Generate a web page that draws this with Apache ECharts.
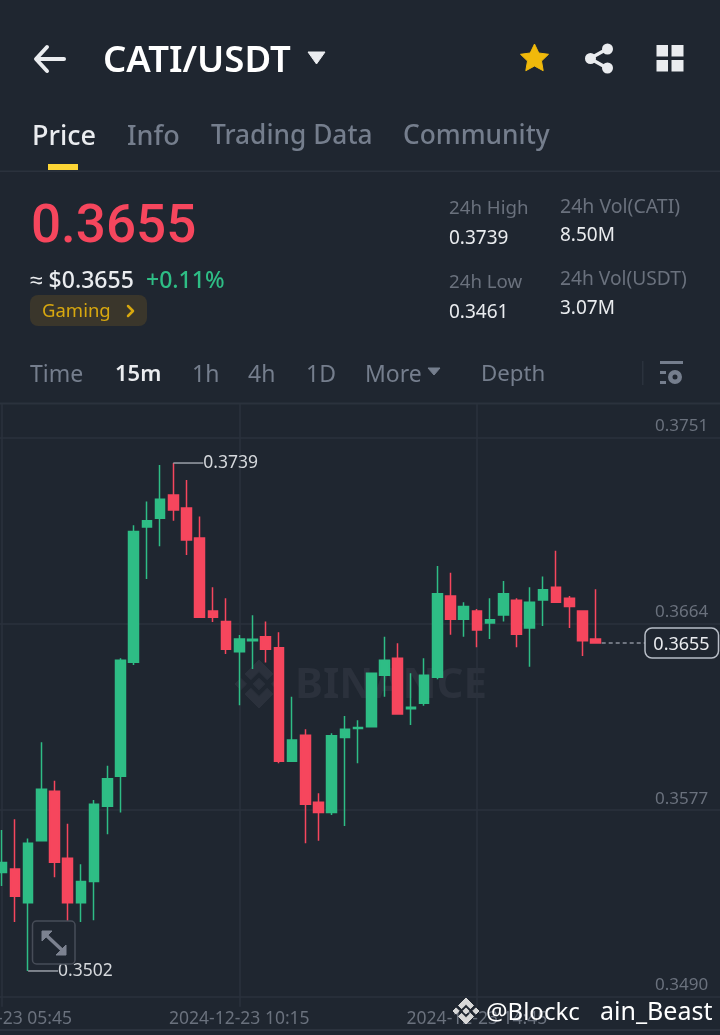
<!DOCTYPE html>
<html>
<head>
<meta charset="utf-8">
<title>CATI/USDT</title>
<script src="https://cdn.jsdelivr.net/npm/echarts@6/dist/echarts.min.js"></script>
<style>
  html, body { margin: 0; padding: 0; background: #1f2630; }
  #chart { width: 720px; height: 1035px; }
</style>
</head>
<body>
<div id="chart"></div>
<script>
// candle times, 15m bars, the tail slots are the empty space right of the last bar
const times = [
  '2024-12-23 05:45','2024-12-23 06:00','2024-12-23 06:15','2024-12-23 06:30','2024-12-23 06:45','2024-12-23 07:00',
  '2024-12-23 07:15','2024-12-23 07:30','2024-12-23 07:45','2024-12-23 08:00','2024-12-23 08:15','2024-12-23 08:30',
  '2024-12-23 08:45','2024-12-23 09:00','2024-12-23 09:15','2024-12-23 09:30','2024-12-23 09:45','2024-12-23 10:00',
  '2024-12-23 10:15','2024-12-23 10:30','2024-12-23 10:45','2024-12-23 11:00','2024-12-23 11:15','2024-12-23 11:30',
  '2024-12-23 11:45','2024-12-23 12:00','2024-12-23 12:15','2024-12-23 12:30','2024-12-23 12:45','2024-12-23 13:00',
  '2024-12-23 13:15','2024-12-23 13:30','2024-12-23 13:45','2024-12-23 14:00','2024-12-23 14:15','2024-12-23 14:30',
  '2024-12-23 14:45','2024-12-23 15:00','2024-12-23 15:15','2024-12-23 15:30','2024-12-23 15:45','2024-12-23 16:00',
  '2024-12-23 16:15','2024-12-23 16:30','2024-12-23 16:45','2024-12-23 17:00','2024-12-23 17:15','2024-12-23 17:30',
  '2024-12-23 17:45','2024-12-23 18:00','2024-12-23 18:15','2024-12-23 18:30','2024-12-23 18:45','2024-12-23 19:00',
  '2024-12-23 19:15'
];
// only these times get a label and a vertical line
const labelledTimes = ['2024-12-23 05:45', '2024-12-23 10:15', '2024-12-23 14:45'];

// OHLC
const opens = [
  .35479,.35496,.35338,.35628,.35859,.35546,.35338,.35437,.35789,.35929,.3646,.37092,
  .37132,.37241,.3718,.3704,.367,.3665,.3651,.36561,.3658,.36528,.35999,.3612,
  .35807,.35759,.36109,.36151,.3616,.364,.36479,.36243,.36269,.3639,.3677,.36661,
  .367,.36644,.36681,.3675,.3662,.36751,.3681,.36759,.367,.36569
];
const closes = [
  .35526,.35369,.35616,.35868,.35527,.35338,.35437,.35798,.35917,.3647,.3707,.37121,
  .37221,.37171,.37031,.3667,.3667,.36521,.36569,.36568,.36521,.35999,.36098,.35798,
  .35759,.36118,.36148,.36156,.36409,.3647,.36219,.3625,.364,.3678,.36661,.3672,
  .36611,.36659,.3678,.36591,.3674,.36799,.3674,.3672,.36561,.3655
];
const lows = [
  .35417,.35248,.3502,.35628,.35457,.3525,.35248,.35257,.35658,.35759,.36448,.36849,
  .37002,.37121,.36961,.3667,.36648,.36499,.3626,.36429,.36459,.35989,.35999,.35616,
  .35628,.35748,.35697,.35989,.3616,.363,.36219,.36168,.36258,.36381,.36589,.3658,
  .3653,.36569,.3665,.3653,.3644,.3663,.3674,.3662,.3649,.3655
];
const highs = [
  .35678,.35728,.35638,.36087,.35908,.35707,.35518,.35818,.35978,.36479,.371,.3721,
  .37381,.3739,.37311,.3714,.3681,.36759,.36588,.3668,.3665,.366,.363,.36148,
  .35849,.36129,.3621,.3619,.36409,.3658,.36549,.36409,.36479,.3691,.36878,.3674,
  .36709,.36759,.3684,.36759,.3681,.3686,.36981,.3677,.367,.36801
];

// price axis
const axisMin = 0.349;
const axisMax = 0.3751;
const axisStep = 0.0087;

// marked extremes and last price
const extremeIndex = [13, 2];
const extremePrice = [0.3739, 0.3502];
const lastIndex = 45;
const lastPrice = 0.3655;

// header texts
const tabLabels = ['Price', 'Info', 'Trading Data', 'Community'];
const periodLabels = ['Time', '15m', '1h', '4h', '1D', 'More', 'Depth'];
const statLabels = ['24h High', '24h Low', '24h Vol(CATI)', '24h Vol(USDT)'];
const statValues = ['0.3739', '0.3461', '8.50M', '3.07M'];

const FONT = '"Noto Sans", sans-serif';
const BG = '#1f2630';
const GREEN = '#2ebd85';
const RED = '#f6465d';
const WHITE = '#eaecef';
const GREY = '#757e8d';
const LINE = '#2b323d';

// the font sits about 2px high with middle alignment, so y is nudged here
function txt(text, x, y, size, fill, weight, align) {
  return {
    type: 'text', z: 20,
    style: {
      text: text, x: x, y: y + 2, fill: fill,
      font: (weight || 400) + ' ' + size + 'px ' + FONT,
      textAlign: align || 'left', textVerticalAlign: 'middle'
    }
  };
}
function poly(points, fill, z) {
  return { type: 'polygon', z: z === undefined ? 20 : z, shape: { points: points }, style: { fill: fill, stroke: fill, lineWidth: 1, lineJoin: 'round' } };
}
function pline(points, stroke, width) {
  return { type: 'polyline', z: 20, shape: { points: points }, style: { stroke: stroke, lineWidth: width, fill: null, lineJoin: 'round', lineCap: 'round' } };
}
function rect(x, y, w, h, fill, r) {
  return { type: 'rect', z: 20, shape: { x: x, y: y, width: w, height: h, r: r || 0 }, style: { fill: fill } };
}

// binance diamond logo made of five polygons
function logo(cx, cy, r, fill, z) {
  const shapes = [
    [[0,-1],[.58,-.42],[.34,-.18],[0,-.52],[-.34,-.18],[-.58,-.42]],
    [[0,1],[.58,.42],[.34,.18],[0,.52],[-.34,.18],[-.58,.42]],
    [[0,-.24],[.24,0],[0,.24],[-.24,0]],
    [[.76,-.24],[1,0],[.76,.24],[.52,0]],
    [[-.76,-.24],[-.52,0],[-.76,.24],[-1,0]]
  ];
  return shapes.map(s => poly(s.map(p => [cx + p[0] * r, cy + p[1] * r]), fill, z));
}

const graphics = [
  // top bar
  pline([[47,47],[36,59],[47,71]], WHITE, 4),
  pline([[37,59],[64,59]], WHITE, 4),
  txt('CATI/USDT', 103, 60, 36.5, '#ffffff', 600),
  poly([[308,52],[325,52],[316.5,64]], WHITE),
  poly([[534.5,44],[538.8,53],[548.5,54.3],[541.5,61],[543.2,70.7],[534.5,66],[525.8,70.7],[527.5,61],[520.5,54.3],[530.2,53]], '#f0b90b'),
  pline([[607,49],[590,58.5],[607,68]], WHITE, 3.5),
  { type: 'circle', z: 20, shape: { cx: 607.5, cy: 49, r: 5.5 }, style: { fill: WHITE } },
  { type: 'circle', z: 20, shape: { cx: 607.5, cy: 68, r: 5.5 }, style: { fill: WHITE } },
  { type: 'circle', z: 20, shape: { cx: 590.5, cy: 58.5, r: 5.5 }, style: { fill: WHITE } },
  rect(656.5, 45, 11.5, 11.5, WHITE), rect(671.5, 45, 12, 11.5, WHITE),
  rect(656.5, 60, 11.5, 11.5, WHITE), rect(671.5, 60, 12, 11.5, WHITE),

  // tabs
  txt(tabLabels[0], 32, 135, 27, WHITE, 500),
  txt(tabLabels[1], 127, 135, 27, GREY, 500),
  txt(tabLabels[2], 211, 135, 26.3, GREY, 500),
  txt(tabLabels[3], 403, 135, 26.3, GREY, 500),
  rect(48, 164, 30, 6, '#fcd535'),
  rect(0, 170.5, 720, 1.5, LINE),

  // price block
  { type: 'text', z: 20, style: { text: '0.3655', x: 31, y: 229, fill: RED, font: '500 53px Roboto, sans-serif', textVerticalAlign: 'middle' } },
  txt('\u2248 $0.3655', 30, 279, 23, WHITE, 500),
  txt('+0.11%', 146, 279, 23, GREEN, 500),
  rect(30, 295, 117, 31, '#3a362b', 8),
  txt('Gaming', 42, 310, 18.5, '#d8a80f'),
  pline([[128,306],[133,311],[128,316]], '#d8a80f', 2.5),

  // 24h stats
  txt(statLabels[0], 449, 207, 18.7, '#6a717d'),
  txt(statValues[0], 449, 237, 19, WHITE),
  txt(statLabels[1], 449, 281, 18.7, '#6a717d'),
  txt(statValues[1], 449, 311, 19, WHITE),
  txt(statLabels[2], 560, 205, 19.5, '#6a717d'),
  txt(statValues[2], 560, 234, 19, WHITE),
  txt(statLabels[3], 560, 278, 19.2, '#6a717d'),
  txt(statValues[3], 560, 307, 19, WHITE),

  // period toolbar
  txt(periodLabels[0], 30, 373, 23, GREY),
  txt(periodLabels[1], 115, 373, 22, WHITE, 600),
  txt(periodLabels[2], 192, 373, 23, GREY),
  txt(periodLabels[3], 248, 373, 23, GREY),
  txt(periodLabels[4], 306, 373, 23, GREY),
  txt(periodLabels[5], 365, 373, 23, GREY),
  poly([[428,368],[440,368],[434,375]], GREY),
  txt(periodLabels[6], 481, 373, 22.3, GREY),
  rect(642, 361, 1.5, 24, LINE),
  rect(660, 361, 23, 3, GREY), rect(660, 371, 6, 3, GREY), rect(660, 381, 6, 3, GREY),
  { type: 'ring', z: 20, shape: { cx: 675, cy: 377, r: 7, r0: 2.5 }, style: { fill: GREY } },
  rect(0, 402.5, 720, 2, LINE),
  rect(0, 1029, 720, 2, LINE),

  // faded watermark behind the candles
  ...logo(259, 684, 24, '#2b313c', 0),
  { type: 'text', z: 0, style: { text: 'BINANCE', x: 295, y: 686, fill: '#2b313c', font: '700 42px "Noto Sans", sans-serif', textVerticalAlign: 'middle' } },

  // expand button
  { type: 'rect', z: 20, shape: { x: 32.5, y: 921, width: 42.5, height: 43, r: 4 }, style: { fill: BG, stroke: '#474d58', lineWidth: 1.5 } },
  pline([[46,935],[62,950]], '#7c8290', 3.5),
  poly([[42,931],[52,931],[42,941]], '#7c8290'),
  poly([[66,955],[56,955],[66,945]], '#7c8290'),

  // user stamp over the axis
  ...logo(466, 1011, 13, '#d8d8d8', 30),
  { type: 'text', z: 30, style: { text: '@Blockc', x: 486, y: 1013, fill: '#ffffff', font: '400 24px ' + FONT, textVerticalAlign: 'middle' } },
  { type: 'text', z: 30, style: { text: 'ain_Beast', x: 600, y: 1013, fill: '#ffffff', font: '400 25px ' + FONT, textVerticalAlign: 'middle' } }
];

// high/low leader lines, placed through the axes
function renderMark(params, api) {
  const p = api.coord([api.value(0), api.value(1)]);
  const label = api.value(1).toFixed(4);
  return { type: 'group', children: [
    { type: 'line', shape: { x1: p[0], y1: p[1], x2: p[0] + 30, y2: p[1] }, style: { stroke: '#9aa0a8', lineWidth: 1.5 } },
    { type: 'text', style: { text: label, x: p[0] + 30, y: p[1], fill: '#d5d8dc', font: '400 17.5px ' + FONT, textVerticalAlign: 'middle' } }
  ] };
}

function renderLast(params, api) {
  const p = api.coord([api.value(0), api.value(1)]);
  return { type: 'group', children: [
    { type: 'line', shape: { x1: p[0] + 6, y1: p[1], x2: 645, y2: p[1] }, style: { stroke: '#8a909a', lineWidth: 1.5, lineDash: [4, 3] } },
    { type: 'rect', shape: { x: 645, y: p[1] - 15, width: 73.5, height: 30, r: 7 }, style: { fill: BG, stroke: '#b7bdc6', lineWidth: 1.5 } },
    { type: 'text', style: { text: api.value(1).toFixed(4), x: 681.5, y: p[1] + 2, fill: WHITE, font: '400 18px ' + FONT, textAlign: 'center', textVerticalAlign: 'middle' } }
  ] };
}

const showTime = (idx, value) => labelledTimes.includes(value);

const myChart = echarts.init(document.getElementById('chart'), null, { renderer: 'canvas' });

myChart.setOption({
  backgroundColor: BG,
  animation: false,
  graphic: { elements: graphics },
  grid: [
    // candles and price lines
    { left: -4.9, width: 726, top: 437.3, height: 559.4, outerBoundsMode: 'none' },
    // time axis and vertical lines, taller than the price grid
    { left: 1.7, width: 712.8, top: 404, height: 602.7, outerBoundsMode: 'none' }
  ],
  xAxis: [
    { type: 'category', gridIndex: 0, data: times, show: false },
    {
      type: 'category', gridIndex: 1, data: times, boundaryGap: false,
      axisLine: { show: false }, axisTick: { show: false },
      axisLabel: { interval: showTime, color: '#6a717d', fontSize: 17.5, fontFamily: FONT, margin: 3, hideOverlap: false },
      splitLine: { show: true, interval: showTime, lineStyle: { color: LINE, width: 1.5 } }
    }
  ],
  yAxis: [
    {
      type: 'value', gridIndex: 0, position: 'right',
      min: axisMin, max: axisMax, interval: axisStep,
      axisLine: { show: false }, axisTick: { show: false },
      axisLabel: {
        inside: true, margin: 13, color: '#6a717d', fontSize: 17, fontFamily: FONT,
        verticalAlign: 'bottom', padding: [0, 0, 3, 0],
        formatter: v => v.toFixed(4)
      },
      splitLine: { show: true, lineStyle: { color: LINE, width: 1.5 } }
    },
    { type: 'value', gridIndex: 1, min: 0, max: 1, show: false }
  ],
  series: [
    {
      type: 'candlestick', xAxisIndex: 0, yAxisIndex: 0, barWidth: 10,
      data: opens.map((o, i) => [o, closes[i], lows[i], highs[i]]),
      itemStyle: { color: GREEN, color0: RED, borderColor: GREEN, borderColor0: RED, borderWidth: 1.5 }
    },
    {
      type: 'custom', xAxisIndex: 0, yAxisIndex: 0, z: 5, clip: false,
      data: extremeIndex.map((idx, i) => [idx, extremePrice[i]]),
      renderItem: renderMark
    },
    {
      type: 'custom', xAxisIndex: 0, yAxisIndex: 0, z: 6, clip: false,
      data: [[lastIndex, lastPrice]],
      renderItem: renderLast
    }
  ]
});
</script>
</body>
</html>
